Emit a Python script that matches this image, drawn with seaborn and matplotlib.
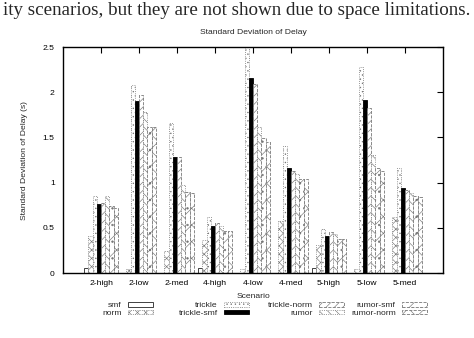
import matplotlib
matplotlib.use("Agg")
import matplotlib.pyplot as plt
import matplotlib.patches as mpatches
import pandas as pd
import seaborn as sns

scenarios = ["2-high", "2-low", "2-med", "4-high", "4-low", "4-med", "5-high", "5-low", "5-med"]
methods = ["smf", "norm", "trickle", "trickle-smf", "trickle-norm", "rumor", "rumor-smf", "rumor-norm"]

smf = [0.06, 0.0, 0.0, 0.05, 0.0, 0.0, 0.05, 0.0, 0.0]
norm = [0.41, 0.04, 0.24, 0.37, 0.04, 0.58, 0.31, 0.04, 0.62]
trickle = [0.85, 2.08, 1.66, 0.62, 2.50, 1.40, 0.49, 2.28, 1.16]
trickle_smf = [0.76, 1.90, 1.28, 0.52, 2.16, 1.16, 0.41, 1.91, 0.94]
trickle_norm = [0.77, 1.97, 1.28, 0.55, 2.09, 1.13, 0.45, 1.82, 0.92]
rumor = [0.85, 1.78, 0.97, 0.52, 1.62, 1.10, 0.43, 1.31, 0.89]
rumor_smf = [0.74, 1.62, 0.90, 0.46, 1.49, 1.04, 0.38, 1.16, 0.85]
rumor_norm = [0.72, 1.61, 0.89, 0.46, 1.45, 1.04, 0.38, 1.13, 0.84]

series = [smf, norm, trickle, trickle_smf, trickle_norm, rumor, rumor_smf, rumor_norm]
df = pd.DataFrame(
    [(s, m, v) for m, vals in zip(methods, series) for s, v in zip(scenarios, vals)],
    columns=["Scenario", "method", "value"],
)

# gnuplot-like fill patterns for each series
fills = ["white", "white", "white", "black", "white", "white", "white", "white"]
hatches = [None, "xxxx", "....", None, "////", "\\\\\\\\", "//..", "xx"]
edges = ["#222222", "#777777", "#777777", "black", "#777777", "#777777", "#777777", "#777777"]
styles = ["-", ":", ":", "-", "--", ":", "--", "--"]

FS = 6.1

sns.set_style("white")
plt.rcParams["font.family"] = ["Liberation Sans", "DejaVu Sans"]
plt.rcParams["hatch.linewidth"] = 0.45
plt.rcParams["hatch.color"] = "#888888"

fig = plt.figure(figsize=(4.74, 3.38), dpi=100)
ax = fig.add_axes([63 / 474, 65 / 338, 380 / 474, 226 / 338])

sns.barplot(
    data=df, x="Scenario", y="value", hue="method",
    order=scenarios, hue_order=methods,
    palette=dict(zip(methods, fills)), saturation=1,
    width=8 / 9, gap=0, dodge=True, legend=False, ax=ax,
)

for cont, h, ec, ls in zip(ax.containers, hatches, edges, styles):
    for bar in cont:
        bar.set_hatch(h)
        bar.set_edgecolor(ec)
        bar.set_linestyle(ls)
        bar.set_linewidth(0.6)

ax.set_xlim(-1, 9)
ax.set_ylim(0, 2.5)
ax.set_yticks([0, 0.5, 1, 1.5, 2, 2.5])
ax.set_yticklabels(["0", "0.5", "1", "1.5", "2", "2.5"])
ax.tick_params(direction="in", top=True, right=True, length=4, width=0.8,
               labelsize=FS, colors="black")
ax.tick_params(axis="y", pad=6)
ax.tick_params(axis="x", pad=5)
for sp in ax.spines.values():
    sp.set_color("black")
    sp.set_linewidth(1.0)

ax.set_title("Standard Deviation of Delay", fontsize=FS, pad=9)
ax.set_xlabel("Scenario", fontsize=FS, labelpad=4)
ax.set_ylabel("Standard Deviation of Delay (s)", fontsize=FS, labelpad=11)

# legend: four columns, label to the left of the swatch
col_right = [153, 249, 344, 427]
for c in range(4):
    handles = []
    for i in (2 * c, 2 * c + 1):
        handles.append(mpatches.Patch(facecolor=fills[i], edgecolor=edges[i],
                                      hatch=hatches[i], linestyle=styles[i],
                                      linewidth=0.6, label=methods[i]))
    fig.legend(handles=handles, loc="upper right",
               bbox_to_anchor=(col_right[c] / 474, 1 - 302 / 338),
               frameon=False, markerfirst=False, fontsize=FS,
               handlelength=3.0, handleheight=0.5, handletextpad=0.7,
               labelspacing=0.02, borderpad=0, borderaxespad=0)

# running text from the page above the figure
txt = fig.text(0.5, 1 - 15 / 338, "ity scenarios, but they are not shown due to space limitations.",
               ha="center", va="baseline", fontsize=16,
               family=["Liberation Serif", "DejaVu Serif"])
fig.canvas.draw()
w = txt.get_window_extent().width
txt.set_fontsize(16 * 467 / w)

fig.savefig("out.png", dpi=100)
